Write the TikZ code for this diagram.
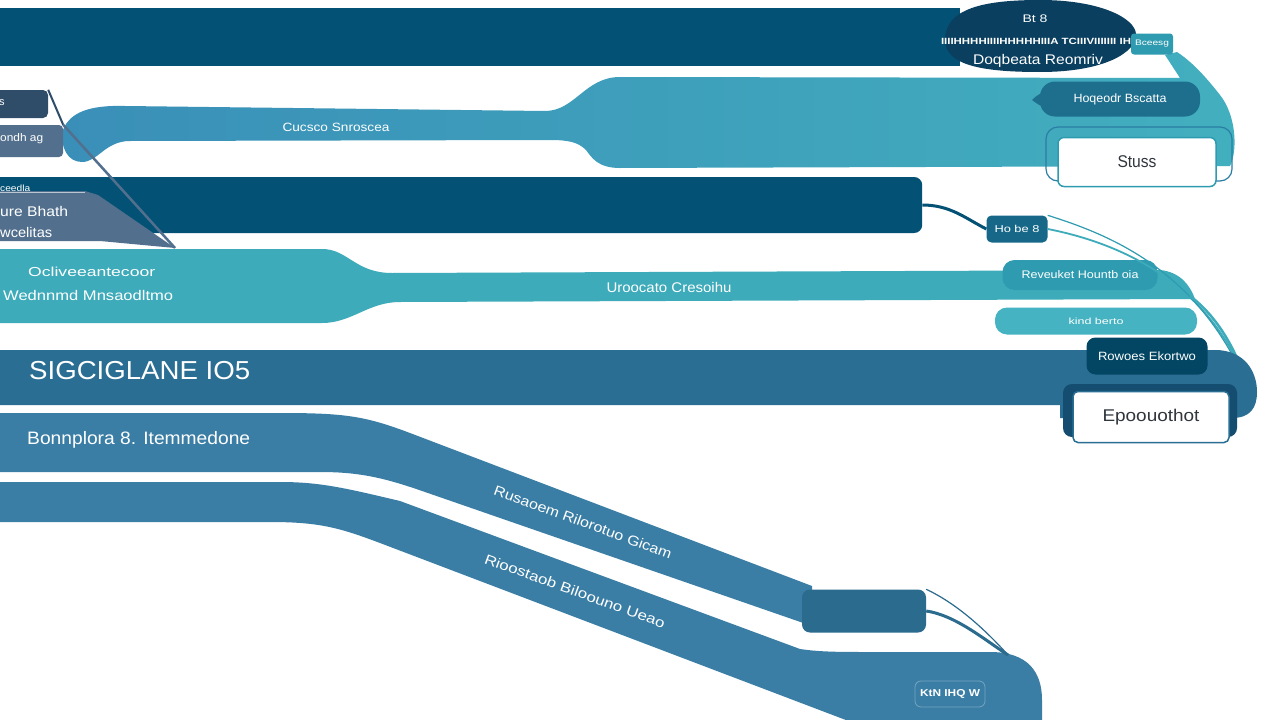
\documentclass[tikz,border=0pt]{standalone}
\usepackage{fontspec}
\setmainfont{Liberation Sans}
\usepackage{graphicx}
\definecolor{cnavy}{HTML}{035275}
\definecolor{cnavydk}{HTML}{0A3F60}
\definecolor{ctealA}{HTML}{3A8FB8}
\definecolor{ctealB}{HTML}{42AFBE}
\definecolor{cteal}{HTML}{3DABBA}
\definecolor{ctealdk}{HTML}{1E6F8E}
\definecolor{ctealmd}{HTML}{2E9BB0}
\definecolor{ctealtl}{HTML}{45B3C1}
\definecolor{cmid}{HTML}{2A6E93}
\definecolor{clow}{HTML}{3B7EA5}
\definecolor{clowdk}{HTML}{2B6B8E}
\definecolor{cslate}{HTML}{52708E}
\definecolor{cslatedk}{HTML}{2F4C68}
\definecolor{ctext}{HTML}{30363D}
\newcommand{\fw}[2]{\resizebox{#1pt}{\height}{#2}}
\tikzset{
  wtxt/.style={text=white, inner sep=0pt, font=\fontsize{#1}{#1}\selectfont},
  dtxt/.style={text=ctext, inner sep=0pt, font=\fontsize{#1}{#1}\selectfont},
  boxshape/.style={inner sep=0pt, rounded corners=#1},
  band/.style={inner sep=0pt, anchor=west}
}
\begin{document}
\begin{tikzpicture}[x=1pt,y=-1pt]
\useasboundingbox (0,0) rectangle (1280,720);
\fill[white] (0,0) rectangle (1280,720);

% ===== row 1 : top navy bar
\node[band, fill=cnavy, minimum width=980pt, minimum height=58pt] (bar1) at (-20,37) {};
\fill[cnavydk] (945,40) .. controls (945,8) and (985,0) .. (1040,0) .. controls (1100,0) and (1135,18) .. (1136,34) .. controls (1137,52) and (1105,72) .. (1040,72) .. controls (985,72) and (945,66) .. (945,40) -- cycle;
\node[wtxt=11] (bt) at (1035,19) {\fw{25}{Bt 8}};
\node[wtxt=9, font=\bfseries\fontsize{9}{9}\selectfont] (garb) at (1036,41) {\fw{190}{IIIIHHHHIIIIHHHHHIIIA TCIIIVIIIIIII IH}};
\node[wtxt=14] (doq) at (1038,61) {\fw{130}{Doqbeata Reomriv}};

% ===== row 2 : teal band
\path[left color=ctealA, right color=ctealB]
  (63,130) .. controls (70,112) and (90,105) .. (125,106) -- (545,111)
  .. controls (575,111) and (585,77) .. (620,77) -- (1180,78) -- (1165,55) -- (1177,52)
  .. controls (1195,64) and (1208,80) .. (1220,95) .. controls (1236,115) and (1238,150) .. (1230,166)
  -- (620,168) .. controls (598,168) and (592,158) .. (586,150) .. controls (578,142) and (568,140) .. (550,140)
  -- (130,141) .. controls (105,141) and (98,162) .. (82,162) .. controls (68,162) and (60,148) .. (63,130) -- cycle;
\node[boxshape=3pt, fill=ctealmd, wtxt=8, minimum width=42pt, minimum height=21pt] (stab) at (1152,44) {\fw{34}{Bceesg}};
\node[wtxt=12] (cuc) at (336,127) {\fw{107}{Cucsco Snroscea}};
\fill[ctealdk] (1046,91) .. controls (1038,94) and (1034,98) .. (1032,100) .. controls (1036,103) and (1040,106) .. (1046,108) -- cycle;
\node[boxshape=15pt, fill=ctealdk, wtxt=12, minimum width=160pt, minimum height=35pt] (hoq) at (1120,99) {\fw{93}{Hoqeodr Bscatta}};
\draw[ctealA!70!cnavy, line width=1.2pt, rounded corners=12pt] (1046,127) rectangle (1232,181);
\node[boxshape=6pt, fill=white, draw=ctealmd, line width=1.5pt, dtxt=17, minimum width=158pt, minimum height=49pt] (stuss) at (1137,162) {\fw{39}{Stuss}};

% ===== row 3 : navy band with slate tabs
\node[band, boxshape=8pt, fill=cnavy, minimum width=942pt, minimum height=56pt] (b3) at (-20,205) {};
\node[boxshape=5pt, fill=cslatedk, minimum width=58pt, minimum height=28pt] (tab1) at (19,104) {};
\node[boxshape=4pt, fill=cslate, minimum width=73pt, minimum height=32pt] (tab2) at (26.5,141) {};
\coordinate (wtip) at (175,248);
\fill[cslate] (-10,191) -- (85,191) -- (98,195) -- (wtip) -- (100,241) -- (-10,241) -- cycle;
\draw[cslatedk, line width=2pt] (tab1.north east) -- (tab2.north east);
\draw[cslate, line width=2.5pt] (tab2.north east) -- (wtip);
\draw[white!60!cslate, line width=0.8pt] (-10,192) -- (85,192);
\node[wtxt=11, anchor=west] (t1) at (-1,103) {s};
\node[wtxt=11, anchor=west] (t2) at (0,139) {\fw{43}{ondh ag}};
\node[wtxt=9, anchor=west] (t3) at (0,188) {\fw{30}{ceedla}};
\node[wtxt=14, anchor=west] (t4) at (0,211) {\fw{68}{ure Bhath}};
\node[wtxt=14, anchor=west] (t5) at (0,232) {\fw{52}{wcelitas}};
\node[boxshape=5pt, fill=ctealdk!75!cnavy, wtxt=10, minimum width=61pt, minimum height=27pt] (hobe) at (1017,229) {\fw{45}{Ho be 8}};
\draw[cnavy, line width=3pt] (b3.east) .. controls (950,205) and (965,218) .. (hobe.west);

% ===== row 4 : teal band
\fill[cteal] (-10,249) -- (322,249) .. controls (348,249) and (355,273) .. (392,273) -- (1160,270)
  .. controls (1180,272) and (1190,285) .. (1195,299) -- (400,302) .. controls (368,302) and (352,323) .. (322,323) -- (-10,323) -- cycle;
\node[wtxt=13, anchor=west] (ocl) at (28,272) {\fw{127}{Ocliveeantecoor}};
\node[wtxt=14, anchor=west] (wed) at (3,295) {\fw{170}{Wednnmd Mnsaodltmo}};
\node[wtxt=14] (uro) at (669,287) {\fw{125}{Uroocato Cresoihu}};
\node[boxshape=12pt, fill=ctealmd, wtxt=11, minimum width=155pt, minimum height=30pt] (rev) at (1080,275) {\fw{117}{Reveuket Hountb oia}};
\node[boxshape=12pt, fill=ctealtl, wtxt=9, minimum width=202pt, minimum height=27pt] (kind) at (1096,321) {\fw{55}{kind berto}};
\coordinate (b5r) at (1249,390);
\draw[cteal, line width=1.8pt] (hobe.east) .. controls (1130,245) and (1215,290) .. (b5r);
\draw[ctealmd, line width=1.2pt] (hobe.north east) .. controls (1110,235) and (1200,270) .. (b5r);
\draw[cteal, line width=2.5pt] (1190,296) .. controls (1215,315) and (1235,345) .. (b5r);

% ===== row 5 : mid blue band
\fill[cmid] (-10,350) -- (1215,350) .. controls (1245,350) and (1257,372) .. (1257,392) .. controls (1257,408) and (1250,418) .. (1232,418) -- (1060,418) -- (1060,405) -- (-10,405) -- cycle;
\fill[cnavydk!70!cmid, rounded corners=9pt] (1063,384) rectangle (1237,437);
\node[boxshape=9pt, fill=cnavy!85!black, wtxt=12, minimum width=121pt, minimum height=37pt] (row) at (1147,356) {\fw{98}{Rowoes Ekortwo}};
\node[boxshape=5pt, fill=white, draw=cmid, line width=1.5pt, dtxt=17, minimum width=156pt, minimum height=51pt] (epo) at (1151,417) {\fw{97}{Epoouothot}};
\node[wtxt=26, anchor=west] (sig) at (29,371) {\fw{221}{SIGCIGLANE IO5}};

% ===== row 6 : upper diagonal band
\fill[clow] (-10,413) -- (280,413) .. controls (345,413) and (365,416) .. (410,433) -- (812,586) -- (812,626) -- (425,492) .. controls (385,478) and (360,472) .. (320,472) -- (-10,472) -- cycle;
\node[boxshape=8pt, fill=clowdk, minimum width=124pt, minimum height=43pt] (uend) at (864,611) {};
\node[wtxt=18, anchor=west] (bon) at (27,440) {\fw{223}{Bonnplora 8. Itemmedone}};
\node[wtxt=14, rotate=-20] (rus) at (583,522) {\fw{188}{Rusaoem Rilorotuo Gicam}};

% ===== row 7 : lower diagonal band
\fill[clow] (-10,482) -- (280,482) .. controls (320,482) and (345,488) .. (400,501) -- (800,649)
  .. controls (820,652) and (840,652) .. (870,652) -- (990,652) .. controls (1028,652) and (1042,672) .. (1042,700)
  -- (1042,725) -- (859,725) -- (380,543) .. controls (340,528) and (320,522) .. (270,522) -- (-10,522) -- cycle;
\node[wtxt=14, rotate=-20] (rio) at (575,591) {\fw{191}{Rioostaob Biloouno Ueao}};
\coordinate (lend) at (1008,655);
\draw[clowdk, line width=3pt] (uend.east) .. controls (955,615) and (985,640) .. (lend);
\draw[clowdk, line width=1.2pt] (uend.north east) .. controls (960,605) and (990,635) .. (lend);
\node[boxshape=6pt, fill=clow, draw=clow!70!white, line width=0.8pt, wtxt=10, font=\bfseries\fontsize{10}{10}\selectfont, minimum width=70pt, minimum height=26pt] (ktn) at (950,694) {\fw{60}{KtN IHQ W}};
\end{tikzpicture}
\end{document}
